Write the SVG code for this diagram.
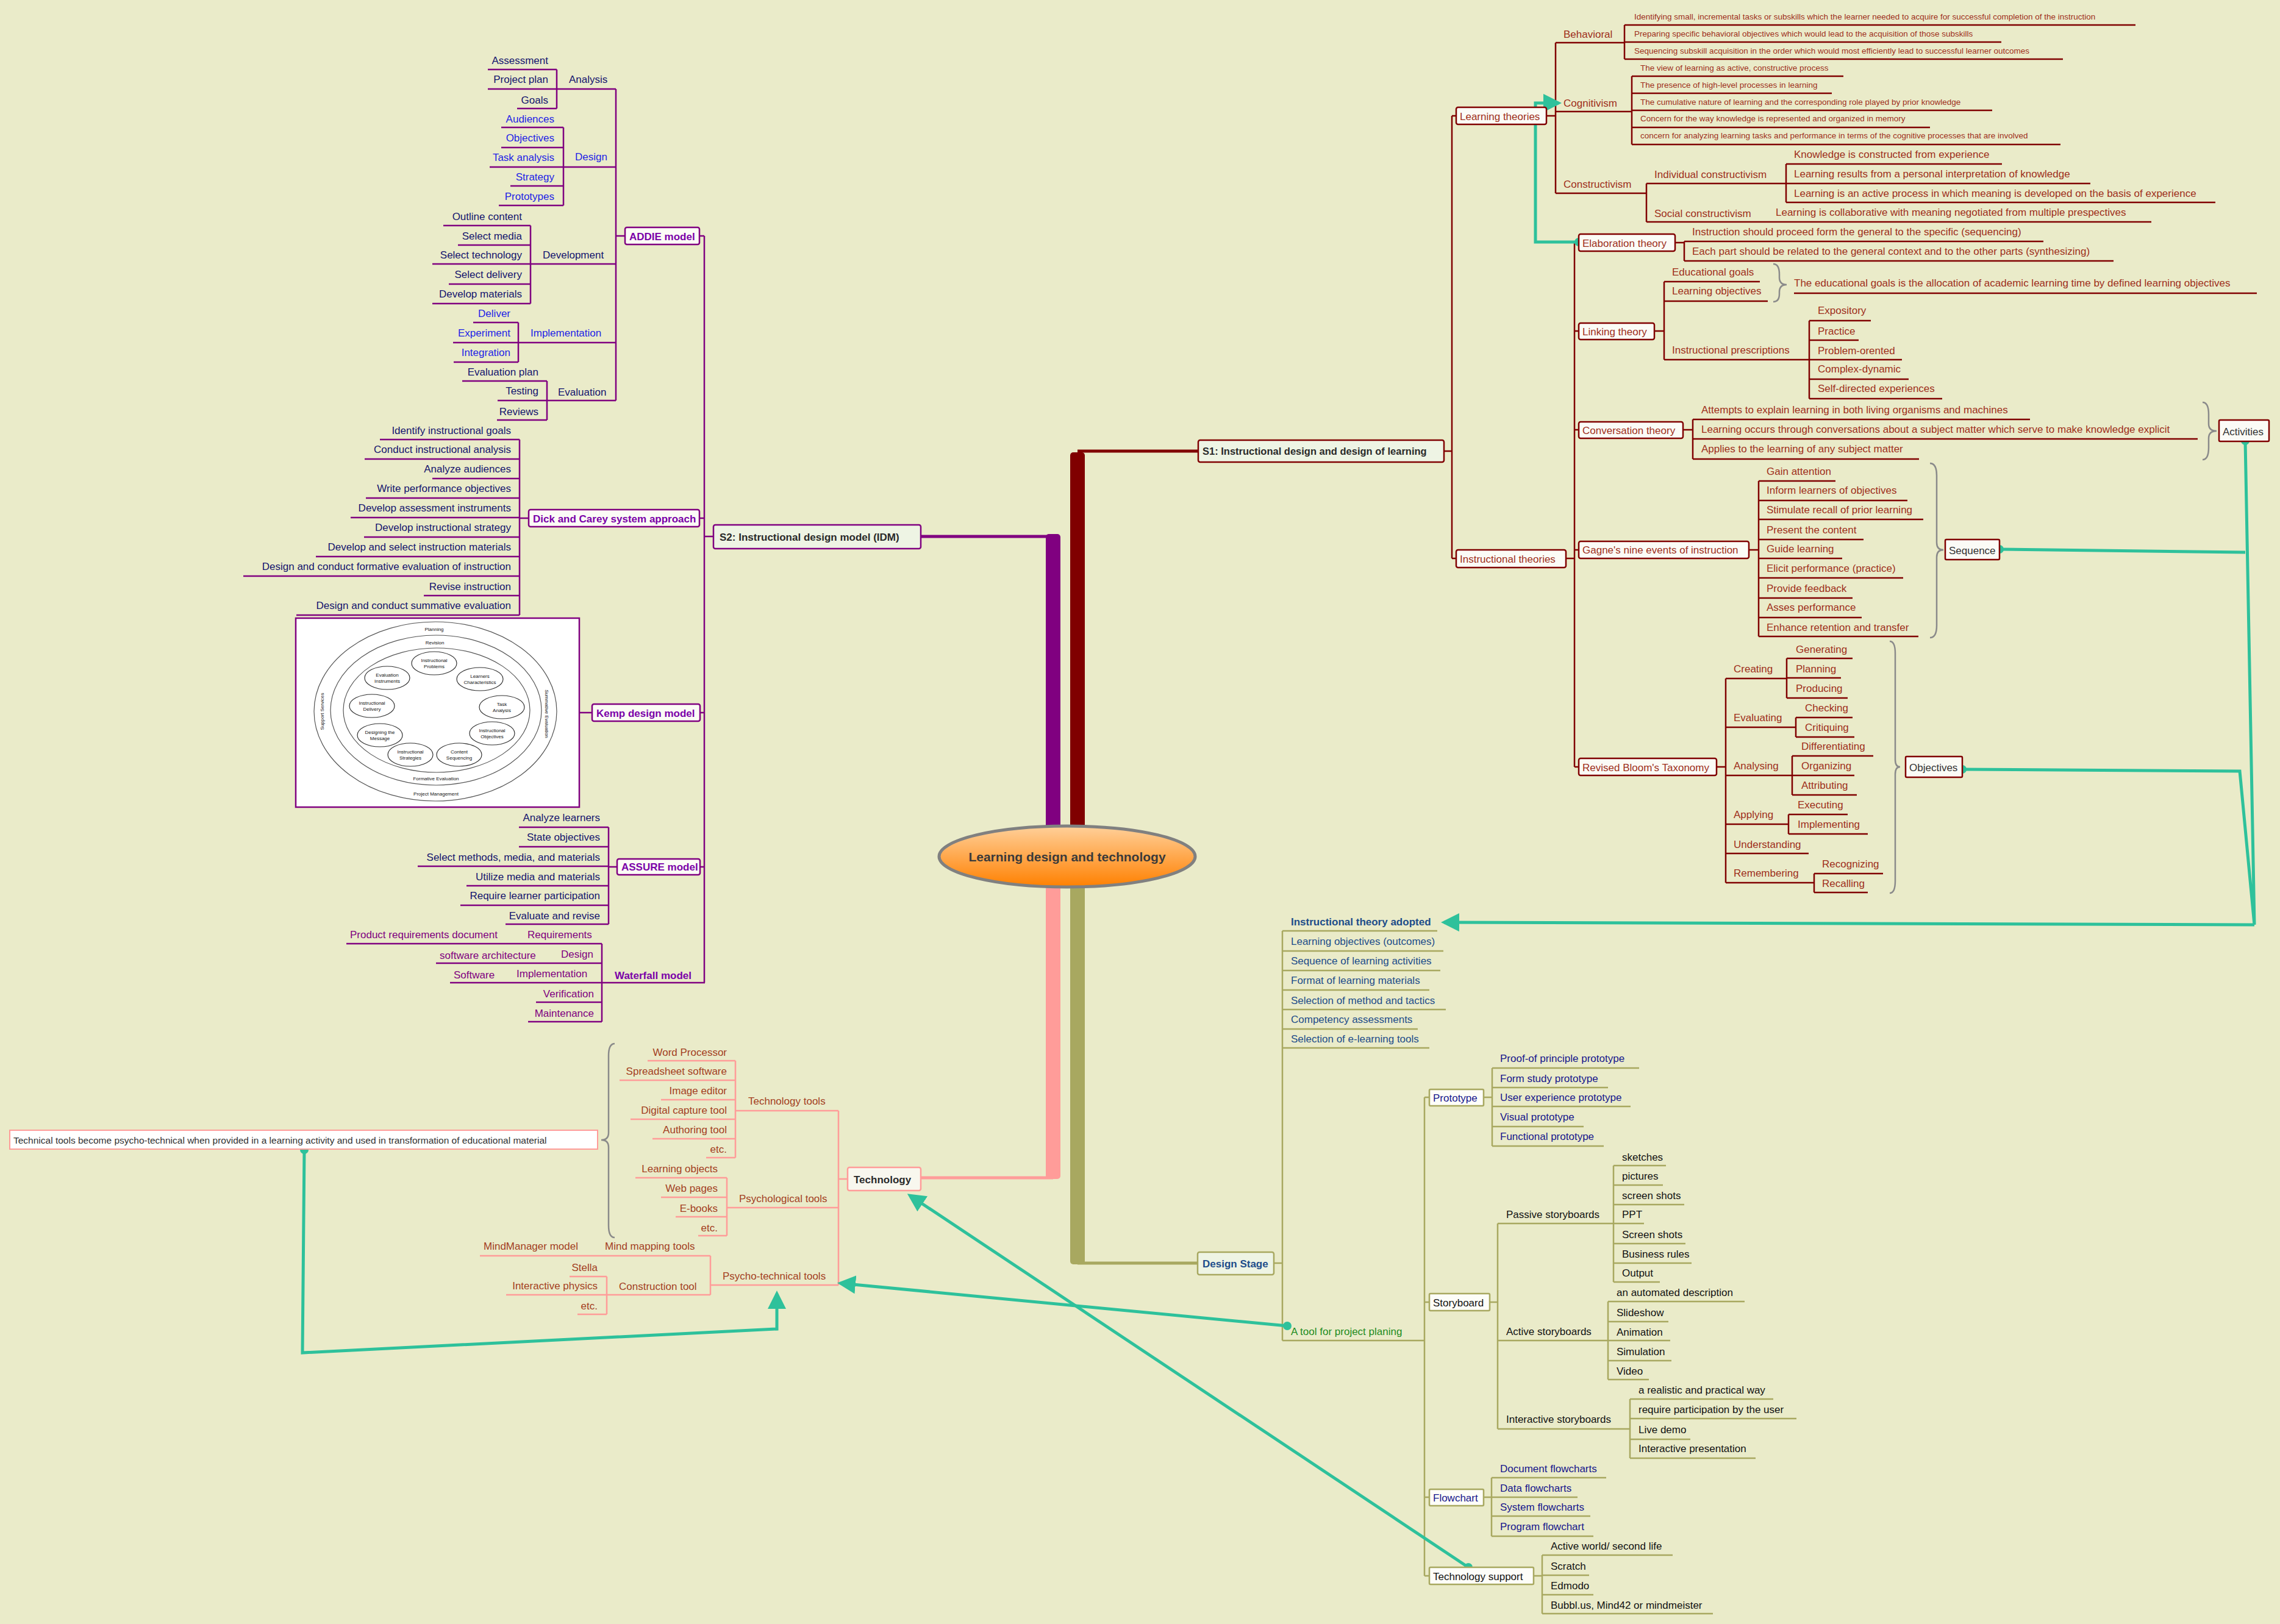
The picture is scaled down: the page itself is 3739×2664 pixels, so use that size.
<svg xmlns="http://www.w3.org/2000/svg" width="3739" height="2664" viewBox="0 0 3739 2664">
<defs>
<linearGradient id="og" x1="0" y1="0" x2="0" y2="1"><stop offset="0" stop-color="#ffd09a"/><stop offset="1" stop-color="#ff8000"/></linearGradient>
<marker id="ar" markerWidth="6" markerHeight="6" refX="5" refY="3" orient="auto" markerUnits="strokeWidth"><path d="M0,0 L6,3 L0,6 Z" fill="#2ec19b"/></marker>
<style>
text{font-family:"Liberation Sans",Arial,sans-serif;font-size:17px}
.r{fill:#9e2f1b}.rs{fill:#9e2f1b;font-size:13.5px}
.nv{fill:#14146e}.bl{fill:#1f1fe6}.pu{fill:#800080}.pb{fill:#7a00a8;font-weight:bold}
.tc{fill:#a3401f}.ds{fill:#1d4d8a}.dn{fill:#16168c}.k{fill:#111}
.e{text-anchor:end}.b{font-weight:bold}
.l1{fill:none;stroke:#800000;stroke-width:2.5}
.l2{fill:none;stroke:#800080;stroke-width:2.5}
.l3{fill:none;stroke:#ff9c99;stroke-width:2.5}
.l4{fill:none;stroke:#a8a860;stroke-width:2.5}
.br{fill:none;stroke:#8a8a8a;stroke-width:2.5}
.tl{fill:none;stroke:#2ec19b;stroke-width:5}
.dot{fill:#2ec19b}
.b1{fill:#fbfbf6;stroke:#800000;stroke-width:2.5}
.b2{fill:#fbfbf6;stroke:#800080;stroke-width:2.5}
.b4{fill:#fdfdf8;stroke:#a8a860;stroke-width:2.5}
.ke{fill:#fff;stroke:#333;stroke-width:1.2}
.kt{font-size:8px;fill:#111;text-anchor:middle}
</style>
</defs>
<rect width="3739" height="2664" fill="#eaebc9"/>

<g id="connectors">
<rect x="1755" y="742" width="24" height="620" rx="5" fill="#800000"/>
<path d="M1767 740 H1965" stroke="#800000" stroke-width="5"/>
<rect x="1715" y="876" width="24" height="484" rx="5" fill="#800080"/>
<path d="M1510 880 H1727" stroke="#800080" stroke-width="5"/>
<rect x="1715" y="1450" width="24" height="484" rx="5" fill="#ff9c99"/>
<path d="M1510 1932 H1727" stroke="#ff9c99" stroke-width="5"/>
<rect x="1755" y="1450" width="24" height="624" rx="5" fill="#a8a860"/>
<path d="M1767 2072 H1964" stroke="#a8a860" stroke-width="5"/>

<path class="l1" d="M2368 740 H2381 M2381 190 V916 M2381 190 H2388 M2381 916 H2388
M2536 190 H2551 M2551 70 V317 M2551 70 H2664 M2551 183 H2676 M2551 317 H2700
M2664 41 V97 M2664 41 H3502 M2664 69 H3282 M2664 97 H3383
M2676 125 V237 M2676 125 H3023 M2676 153 H3004 M2676 181 H3267 M2676 209 H3165 M2676 237 H3379
M2700 301 V364 M2700 301 H2929 M2700 364 H3528
M2929 269 V332 M2929 269 H3283 M2929 301 H3428 M2929 332 H3633
M2569 916 H2582 M2582 398 V1258 M2582 398 H2589 M2582 543 H2589 M2582 705 H2589 M2582 902 H2589 M2582 1258 H2589
M2747 398 H2762 M2762 396 V428 M2762 396 H3351 M2762 428 H3466
M2713 543 H2729 M2729 462 V590 M2729 462 H2886 M2729 494 H2899 M2729 590 H2967 M2942 481 H3701
M2967 526 V654 M2967 526 H3068 M2967 558 H3048 M2967 590 H3119 M2967 622 H3130 M2967 654 H3185
M2760 705 H2776 M2776 688 V753 M2776 688 H3329 M2776 720 H3604 M2776 753 H3147
M2868 902 H2884 M2884 789 V1044 M2884 789 H3010 M2884 821 H3128 M2884 852 H3154 M2884 885 H3056 M2884 916 H3021 M2884 948 H3121 M2884 981 H3038 M2884 1013 H3053 M2884 1044 H3146
M2815 1258 H2830 M2830 1113 V1448 M2830 1113 H2930 M2830 1193 H2945 M2830 1272 H2939 M2830 1352 H2933 M2830 1400 H2966 M2830 1448 H2975
M2930 1080 V1145 M2930 1080 H3038 M2930 1112 H3019 M2930 1145 H3030
M2945 1177 V1209 M2945 1177 H3038 M2945 1209 H3041
M2939 1240 V1304 M2939 1240 H3072 M2939 1272 H3041 M2939 1304 H3045
M2933 1336 V1368 M2933 1336 H3030 M2933 1368 H3063
M2975 1433 V1464 M2975 1433 H3088 M2975 1464 H3063"/>

<path class="br" d="M2908 433 Q2918 433 2918 450 V455 Q2918 467 2930 467 Q2918 467 2918 479 V482 Q2918 495 2908 495"/>
<path class="br" d="M3612 660 Q3622 660 3622 680 V695 Q3622 707 3635 707 Q3622 707 3622 719 V734 Q3622 754 3612 754"/>
<path class="br" d="M3165 760 Q3176 760 3176 780 V890 Q3176 902 3187 902 Q3176 902 3176 914 V1026 Q3176 1046 3165 1046"/>
<path class="br" d="M3099 1052 Q3108 1052 3108 1072 V1246 Q3108 1258 3116 1258 Q3108 1258 3108 1270 V1445 Q3108 1465 3099 1465"/>
<path class="br" d="M1008 1712 Q998 1712 998 1732 V1858 Q998 1870 986 1870 Q998 1870 998 1882 V2010 Q998 2030 1008 2030"/>

<path class="l2" d="M1170 880 H1155 M1155 387 V1612 M1147 387 H1155 M1147 850 H1155 M1148 1169 H1155 M1148 1422 H1155
M1025 387 H1010 M1010 146 V657 M913 146 H1010 M924 274 H1010 M870 433 H1010 M850 562 H1010 M897 657 H1010
M913 114 V178 M800 114 H913 M800 146 H913 M848 178 H913
M924 209 V337 M822 209 H924 M822 242 H924 M803 274 H924 M837 305 H924 M818 337 H924
M870 370 V498 M727 370 H870 M751 402 H870 M709 433 H870 M736 466 H870 M709 498 H870
M850 529 V594 M776 529 H850 M743 562 H850 M744 594 H850
M897 625 V689 M758 625 H897 M816 657 H897 M815 689 H897
M867 850 H852 M852 721 V1009 M623 721 H852 M598 753 H852 M709 785 H852 M600 817 H852 M575 849 H852 M597 881 H852 M518 913 H852 M399 945 H852 M695 977 H852 M486 1009 H852
M950 1169 H971
M1012 1422 H998 M998 1357 V1516 M851 1357 H998 M851 1389 H998 M685 1421 H998 M765 1453 H998 M755 1485 H998 M829 1516 H998
M987 1548 V1676 M568 1548 H987 M715 1580 H987 M738 1612 H1156 M879 1644 H987 M866 1676 H987"/>

<path class="l3" d="M1390 1934 H1375 M1375 1822 V2108 M1206 1822 H1375 M1192 1981 H1375 M1165 2108 H1375
M1206 1740 V1899 M1062 1740 H1206 M1016 1772 H1206 M1084 1804 H1206 M1034 1836 H1206 M1070 1868 H1206 M1158 1899 H1206
M1192 1932 V2027 M1042 1932 H1192 M1084 1964 H1192 M1108 1996 H1192 M1145 2027 H1192
M1165 2060 V2124 M787 2060 H1165 M995 2124 H1165
M995 2094 V2156 M934 2094 H995 M830 2124 H995 M947 2156 H995"/>

<path class="l4" d="M2089 2072 H2103 M2103 1527 V2199 M2103 1527 H2357 M2103 1560 H2367 M2103 1592 H2362 M2103 1624 H2344 M2103 1656 H2371 M2103 1688 H2325 M2103 1719 H2344 M2103 2199 H2336
M2336 1800 V2585 M2336 1800 H2344 M2336 2136 H2344 M2336 2456 H2344 M2336 2585 H2344
M2433 1800 H2447 M2447 1752 V1880 M2447 1752 H2688 M2447 1784 H2637 M2447 1815 H2674 M2447 1848 H2597 M2447 1880 H2630
M2443 2136 H2456 M2456 2007 V2344 M2456 2007 H2646 M2456 2199 H2637 M2456 2344 H2673
M2646 1912 V2103 M2646 1912 H2732 M2646 1944 H2727 M2646 1976 H2762 M2646 2007 H2696 M2646 2040 H2764 M2646 2072 H2774 M2646 2103 H2722
M2637 2135 V2263 M2637 2135 H2861 M2637 2168 H2736 M2637 2199 H2739 M2637 2232 H2741 M2637 2263 H2704
M2673 2295 V2392 M2673 2295 H2908 M2673 2327 H2946 M2673 2361 H2772 M2673 2392 H2879
M2433 2456 H2446 M2446 2424 V2520 M2446 2424 H2634 M2446 2456 H2587 M2446 2487 H2608 M2446 2520 H2613
M2515 2585 H2529 M2529 2551 V2647 M2529 2551 H2743 M2529 2584 H2606 M2529 2616 H2613 M2529 2647 H2809"/>

<path class="tl" d="M2589 397 H2518 V169 H2556" marker-end="url(#ar)"/>
<path class="tl" d="M3682 723 L3697 1517 M3279 901 L3682 906 M3218 1262 L3673 1265 L3697 1517"/>
<path class="tl" d="M3697 1517 L2368 1513" marker-end="url(#ar)"/>
<path class="tl" d="M2111 2175 L1378 2105" marker-end="url(#ar)"/>
<path class="tl" d="M2408 2571 L1492 1961" marker-end="url(#ar)"/>
<path class="tl" d="M499 1886 L496 2219 L1274 2180 L1274 2122" marker-end="url(#ar)"/>
<circle class="dot" cx="2589" cy="397" r="7"/><circle class="dot" cx="3682" cy="723" r="7"/>
<circle class="dot" cx="3279" cy="901" r="7"/><circle class="dot" cx="3218" cy="1262" r="7"/>
<circle class="dot" cx="2111" cy="2175" r="7"/><circle class="dot" cx="2408" cy="2571" r="7"/>
<circle class="dot" cx="499" cy="1886" r="7"/>
</g>

<g id="center">
<ellipse cx="1750" cy="1405" rx="210" ry="50" fill="url(#og)" stroke="#808080" stroke-width="5"/>
<text x="1750" y="1413" text-anchor="middle" class="b" style="font-size:21px;fill:#3a3a3a">Learning design and technology</text>
</g>

<g id="s1">
<rect x="1965" y="722" width="403" height="36" rx="3" fill="#eef4e4" stroke="#800000" stroke-width="2.5"/>
<text x="1972" y="746" class="b" style="font-size:16.5px;fill:#2a2a2a">S1: Instructional design and design of learning</text>
</g>
<g id="learning-theories">
<rect class="b1" x="2388" y="176" width="148" height="28" rx="3"/><text class="r" x="2394" y="197">Learning theories</text>
<text class="r" x="2564" y="62">Behavioral</text>
<text class="rs" x="2680" y="32">Identifying small, incremental tasks or subskills which the learner needed to acquire for successful completion of the instruction</text>
<text class="rs" x="2680" y="60">Preparing specific behavioral objectives which would lead to the acquisition of those subskills</text>
<text class="rs" x="2680" y="88">Sequencing subskill acquisition in the order which would most efficiently lead to successful learner outcomes</text>
<text class="r" x="2564" y="175">Cognitivism</text>
<text class="rs" x="2690" y="116">The view of learning as active, constructive process</text>
<text class="rs" x="2690" y="144">The presence of high-level processes in learning</text>
<text class="rs" x="2690" y="172">The cumulative nature of learning and the corresponding role played by prior knowledge</text>
<text class="rs" x="2690" y="199">Concern for the way knowledge is represented and organized in memory</text>
<text class="rs" x="2690" y="227">concern for analyzing learning tasks and performance in terms of the cognitive processes that are involved</text>
<text class="r" x="2564" y="308">Constructivism</text>
<text class="r" x="2713" y="292">Individual constructivism</text>
<text class="r" x="2942" y="259">Knowledge is constructed from experience</text>
<text class="r" x="2942" y="291">Learning results from a personal interpretation of knowledge</text>
<text class="r" x="2942" y="323">Learning is an active process in which meaning is developed on the basis of experience</text>
<text class="r" x="2713" y="356">Social constructivism</text>
<text class="r" x="2912" y="354">Learning is collaborative with meaning negotiated from multiple prespectives</text>
</g>
<g id="instructional-theories">
<rect class="b1" x="2388" y="902" width="180" height="29" rx="3"/><text class="r" x="2394" y="923">Instructional theories</text>
<rect class="b1" x="2589" y="384" width="158" height="28" rx="3"/><text class="r" x="2595" y="405">Elaboration theory</text>
<text class="r" x="2775" y="386">Instruction should proceed form the general to the specific (sequencing)</text>
<text class="r" x="2775" y="418">Each part should be related to the general context and to the other parts (synthesizing)</text>
<rect class="b1" x="2589" y="530" width="124" height="27" rx="3"/><text class="r" x="2595" y="550">Linking theory</text>
<text class="r" x="2742" y="452">Educational goals</text>
<text class="r" x="2742" y="483">Learning objectives</text>
<text class="r" x="2942" y="470">The educational goals is the allocation of academic learning time by defined learning objectives</text>
<text class="r" x="2742" y="580">Instructional prescriptions</text>
<text class="r" x="2981" y="515">Expository</text>
<text class="r" x="2981" y="549">Practice</text>
<text class="r" x="2981" y="581">Problem-orented</text>
<text class="r" x="2981" y="611">Complex-dynamic</text>
<text class="r" x="2981" y="643">Self-directed experiences</text>
<rect class="b1" x="2589" y="692" width="171" height="27" rx="3"/><text class="r" x="2595" y="712">Conversation theory</text>
<text class="r" x="2790" y="678">Attempts to explain learning in both living organisms and machines</text>
<text class="r" x="2790" y="710">Learning occurs through conversations about a subject matter which serve to make knowledge explicit</text>
<text class="r" x="2790" y="742">Applies to the learning of any subject matter</text>
<rect class="b1" x="3639" y="689" width="82" height="35" rx="2"/><text x="3645" y="714" style="fill:#333">Activities</text>
<rect class="b1" x="2589" y="888" width="279" height="28" rx="3"/><text class="r" x="2595" y="908">Gagne's nine events of instruction</text>
<text class="r" x="2897" y="779">Gain attention</text>
<text class="r" x="2897" y="810">Inform learners of objectives</text>
<text class="r" x="2897" y="842">Stimulate recall of prior learning</text>
<text class="r" x="2897" y="875">Present the content</text>
<text class="r" x="2897" y="906">Guide learning</text>
<text class="r" x="2897" y="938">Elicit performance (practice)</text>
<text class="r" x="2897" y="971">Provide feedback</text>
<text class="r" x="2897" y="1002">Asses performance</text>
<text class="r" x="2897" y="1035">Enhance retention and transfer</text>
<rect class="b1" x="3190" y="885" width="89" height="33" rx="2"/><text x="3196" y="909" style="fill:#333">Sequence</text>
<rect class="b1" x="2589" y="1244" width="226" height="28" rx="3"/><text class="r" x="2595" y="1265">Revised Bloom's Taxonomy</text>
<text class="r" x="2843" y="1103">Creating</text>
<text class="r" x="2945" y="1071">Generating</text>
<text class="r" x="2945" y="1103">Planning</text>
<text class="r" x="2945" y="1135">Producing</text>
<text class="r" x="2843" y="1183">Evaluating</text>
<text class="r" x="2960" y="1167">Checking</text>
<text class="r" x="2960" y="1199">Critiquing</text>
<text class="r" x="2843" y="1262">Analysing</text>
<text class="r" x="2954" y="1230">Differentiating</text>
<text class="r" x="2954" y="1262">Organizing</text>
<text class="r" x="2954" y="1294">Attributing</text>
<text class="r" x="2843" y="1342">Applying</text>
<text class="r" x="2948" y="1326">Executing</text>
<text class="r" x="2948" y="1358">Implementing</text>
<text class="r" x="2843" y="1391">Understanding</text>
<text class="r" x="2843" y="1438">Remembering</text>
<text class="r" x="2988" y="1423">Recognizing</text>
<text class="r" x="2988" y="1455">Recalling</text>
<rect class="b1" x="3125" y="1241" width="93" height="34" rx="2"/><text x="3131" y="1265" style="fill:#333">Objectives</text>
</g>

<g id="s2">
<rect x="1170" y="861" width="340" height="39" rx="3" fill="#eef4e4" stroke="#800080" stroke-width="2.5"/>
<text x="1180" y="887" class="b" style="font-size:17px;fill:#2a2a2a">S2: Instructional design model (IDM)</text>
</g>
<g id="addie">
<rect class="b2" x="1025" y="373" width="122" height="28" rx="3"/><text class="pb" x="1032" y="394">ADDIE model</text>
<text class="nv" x="933" y="136">Analysis</text>
<text class="nv e" x="899" y="105">Assessment</text><text class="nv e" x="899" y="136">Project plan</text><text class="nv e" x="899" y="170">Goals</text>
<text class="bl" x="943" y="263">Design</text>
<text class="bl e" x="909" y="201">Audiences</text><text class="bl e" x="909" y="232">Objectives</text><text class="bl e" x="909" y="264">Task analysis</text><text class="bl e" x="909" y="296">Strategy</text><text class="bl e" x="909" y="328">Prototypes</text>
<text class="nv" x="890" y="424">Development</text>
<text class="nv e" x="856" y="361">Outline content</text><text class="nv e" x="856" y="393">Select media</text><text class="nv e" x="856" y="424">Select technology</text><text class="nv e" x="856" y="456">Select delivery</text><text class="nv e" x="856" y="488">Develop materials</text>
<text class="bl" x="870" y="552">Implementation</text>
<text class="bl e" x="837" y="520">Deliver</text><text class="bl e" x="837" y="552">Experiment</text><text class="bl e" x="837" y="584">Integration</text>
<text class="nv" x="915" y="649">Evaluation</text>
<text class="nv e" x="883" y="616">Evaluation plan</text><text class="nv e" x="883" y="647">Testing</text><text class="nv e" x="883" y="681">Reviews</text>
</g>
<g id="dick-carey">
<rect class="b2" x="867" y="836" width="280" height="28" rx="3"/><text class="pb" x="874" y="857">Dick and Carey system approach</text>
<text class="nv e" x="838" y="712">Identify instructional goals</text>
<text class="nv e" x="838" y="743">Conduct instructional analysis</text>
<text class="nv e" x="838" y="775">Analyze audiences</text>
<text class="nv e" x="838" y="807">Write performance objectives</text>
<text class="nv e" x="838" y="839">Develop assessment instruments</text>
<text class="nv e" x="838" y="871">Develop instructional strategy</text>
<text class="nv e" x="838" y="903">Develop and select instruction materials</text>
<text class="nv e" x="838" y="935">Design and conduct formative evaluation of instruction</text>
<text class="nv e" x="838" y="968">Revise instruction</text>
<text class="nv e" x="838" y="999">Design and conduct summative evaluation</text>
</g>
<g id="kemp">
<rect x="485" y="1014" width="465" height="310" fill="#fff" stroke="#800080" stroke-width="2.5"/>
<ellipse cx="714" cy="1167" rx="199" ry="147" fill="none" stroke="#555" stroke-width="1.2"/>
<ellipse cx="715" cy="1165" rx="173" ry="123" fill="none" stroke="#555" stroke-width="1.2"/>
<ellipse cx="716" cy="1165" rx="153" ry="102" fill="none" stroke="#555" stroke-width="1.2"/>
<ellipse class="ke" cx="712" cy="1088" rx="37" ry="19"/><text class="kt" x="712" y="1086">Instructional</text><text class="kt" x="712" y="1096">Problems</text>
<ellipse class="ke" cx="787" cy="1114" rx="38" ry="19"/><text class="kt" x="787" y="1112">Learners</text><text class="kt" x="787" y="1122">Characteristics</text>
<ellipse class="ke" cx="823" cy="1160" rx="37" ry="19"/><text class="kt" x="823" y="1158">Task</text><text class="kt" x="823" y="1168">Analysis</text>
<ellipse class="ke" cx="807" cy="1203" rx="37" ry="19"/><text class="kt" x="807" y="1201">Instructional</text><text class="kt" x="807" y="1211">Objectives</text>
<ellipse class="ke" cx="753" cy="1238" rx="37" ry="19"/><text class="kt" x="753" y="1236">Content</text><text class="kt" x="753" y="1246">Sequencing</text>
<ellipse class="ke" cx="673" cy="1238" rx="37" ry="19"/><text class="kt" x="673" y="1236">Instructional</text><text class="kt" x="673" y="1246">Strategies</text>
<ellipse class="ke" cx="623" cy="1206" rx="37" ry="19"/><text class="kt" x="623" y="1204">Designing the</text><text class="kt" x="623" y="1214">Message</text>
<ellipse class="ke" cx="610" cy="1158" rx="37" ry="19"/><text class="kt" x="610" y="1156">Instructional</text><text class="kt" x="610" y="1166">Delivery</text>
<ellipse class="ke" cx="635" cy="1112" rx="37" ry="19"/><text class="kt" x="635" y="1110">Evaluation</text><text class="kt" x="635" y="1120">Instruments</text>
<text class="kt" x="712" y="1035">Planning</text>
<text class="kt" x="713" y="1057">Revision</text>
<text class="kt" x="715" y="1280">Formative Evaluation</text>
<text class="kt" x="715" y="1305">Project Management</text>
<text class="kt" transform="translate(531 1167) rotate(-90)">Support Services</text>
<text class="kt" transform="translate(894 1171) rotate(90)">Summative Evaluation</text>
<rect class="b2" x="971" y="1155" width="177" height="28" rx="3"/><text class="pb" x="978" y="1176">Kemp design model</text>
</g>
<g id="assure">
<rect class="b2" x="1012" y="1409" width="136" height="26" rx="3"/><text class="pb" x="1019" y="1428">ASSURE model</text>
<text class="nv e" x="984" y="1347">Analyze learners</text>
<text class="nv e" x="984" y="1379">State objectives</text>
<text class="nv e" x="984" y="1412">Select methods, media, and materials</text>
<text class="nv e" x="984" y="1444">Utilize media and materials</text>
<text class="nv e" x="984" y="1475">Require learner participation</text>
<text class="nv e" x="984" y="1508">Evaluate and revise</text>
</g>
<g id="waterfall">
<text class="pb" x="1008" y="1606">Waterfall model</text>
<text class="pu" x="865" y="1539">Requirements</text><text class="pu" x="574" y="1539">Product requirements document</text>
<text class="pu" x="920" y="1571">Design</text><text class="pu" x="721" y="1573">software architecture</text>
<text class="pu" x="847" y="1603">Implementation</text><text class="pu" x="744" y="1605">Software</text>
<text class="pu e" x="974" y="1636">Verification</text>
<text class="pu e" x="974" y="1668">Maintenance</text>
</g>

<g id="technology">
<rect x="1390" y="1915" width="120" height="38" rx="3" fill="#f8f7ee" stroke="#ff9c99" stroke-width="2.5"/>
<text x="1400" y="1941" class="b" style="font-size:17px;fill:#2a2a2a">Technology</text>
<text class="tc" x="1227" y="1812">Technology tools</text>
<text class="tc e" x="1192" y="1732">Word Processor</text><text class="tc e" x="1192" y="1763">Spreadsheet software</text><text class="tc e" x="1192" y="1795">Image editor</text><text class="tc e" x="1192" y="1827">Digital capture tool</text><text class="tc e" x="1192" y="1859">Authoring tool</text><text class="tc e" x="1192" y="1891">etc.</text>
<text class="tc" x="1212" y="1972">Psychological tools</text>
<text class="tc e" x="1177" y="1923">Learning objects</text><text class="tc e" x="1177" y="1955">Web pages</text><text class="tc e" x="1177" y="1988">E-books</text><text class="tc e" x="1177" y="2020">etc.</text>
<text class="tc" x="1185" y="2099">Psycho-technical tools</text>
<text class="tc" x="992" y="2050">Mind mapping tools</text><text class="tc" x="793" y="2050">MindManager model</text>
<text class="tc" x="1015" y="2116">Construction tool</text>
<text class="tc e" x="980" y="2085">Stella</text><text class="tc e" x="980" y="2115">Interactive physics</text><text class="tc e" x="980" y="2148">etc.</text>
<rect x="16" y="1854" width="964" height="31" fill="#fff" stroke="#ff9c99" stroke-width="2"/>
<text x="22" y="1876" style="font-size:15.5px;fill:#333">Technical tools become psycho-technical when provided in a learning activity and used in transformation of educational material</text>
</g>

<g id="design-stage">
<rect x="1964" y="2054" width="125" height="37" rx="3" fill="#eef4e4" stroke="#a8a860" stroke-width="2.5"/>
<text x="1972" y="2079" class="b" style="fill:#1d4d8a">Design Stage</text>
<text class="ds b" x="2117" y="1518">Instructional theory adopted</text>
<text class="ds" x="2117" y="1550">Learning objectives (outcomes)</text>
<text class="ds" x="2117" y="1582">Sequence of learning activities</text>
<text class="ds" x="2117" y="1614">Format of learning materials</text>
<text class="ds" x="2117" y="1647">Selection of method and tactics</text>
<text class="ds" x="2117" y="1678">Competency assessments</text>
<text class="ds" x="2117" y="1710">Selection of e-learning tools</text>
<text x="2117" y="2190" style="fill:#1e8c1e">A tool for project planing</text>
<rect class="b4" x="2344" y="1787" width="89" height="27" rx="2"/><text class="dn" x="2350" y="1807">Prototype</text>
<text class="dn" x="2460" y="1742">Proof-of principle prototype</text><text class="dn" x="2460" y="1775">Form study prototype</text><text class="dn" x="2460" y="1806">User experience prototype</text><text class="dn" x="2460" y="1838">Visual prototype</text><text class="dn" x="2460" y="1870">Functional prototype</text>
<rect class="b4" x="2344" y="2122" width="99" height="28" rx="2"/><text class="k" x="2350" y="2143">Storyboard</text>
<text class="k" x="2470" y="1998">Passive storyboards</text>
<text class="k" x="2660" y="1904">sketches</text><text class="k" x="2660" y="1935">pictures</text><text class="k" x="2660" y="1967">screen shots</text><text class="k" x="2660" y="1998">PPT</text><text class="k" x="2660" y="2031">Screen shots</text><text class="k" x="2660" y="2063">Business rules</text><text class="k" x="2660" y="2094">Output</text>
<text class="k" x="2470" y="2190">Active storyboards</text>
<text class="k" x="2651" y="2126">an automated description</text><text class="k" x="2651" y="2159">Slideshow</text><text class="k" x="2651" y="2191">Animation</text><text class="k" x="2651" y="2223">Simulation</text><text class="k" x="2651" y="2255">Video</text>
<text class="k" x="2470" y="2334">Interactive storyboards</text>
<text class="k" x="2687" y="2286">a realistic and practical way</text><text class="k" x="2687" y="2318">require participation by the user</text><text class="k" x="2687" y="2351">Live demo</text><text class="k" x="2687" y="2382">Interactive presentation</text>
<rect class="b4" x="2344" y="2443" width="89" height="27" rx="2"/><text class="dn" x="2350" y="2463">Flowchart</text>
<text class="dn" x="2460" y="2415">Document flowcharts</text><text class="dn" x="2460" y="2447">Data flowcharts</text><text class="dn" x="2460" y="2478">System flowcharts</text><text class="dn" x="2460" y="2510">Program flowchart</text>
<rect class="b4" x="2344" y="2571" width="171" height="28" rx="2"/><text class="k" x="2350" y="2592">Technology support</text>
<text class="k" x="2543" y="2542">Active world/ second life</text><text class="k" x="2543" y="2575">Scratch</text><text class="k" x="2543" y="2607">Edmodo</text><text class="k" x="2543" y="2639">Bubbl.us, Mind42 or mindmeister</text>
</g>
</svg>
